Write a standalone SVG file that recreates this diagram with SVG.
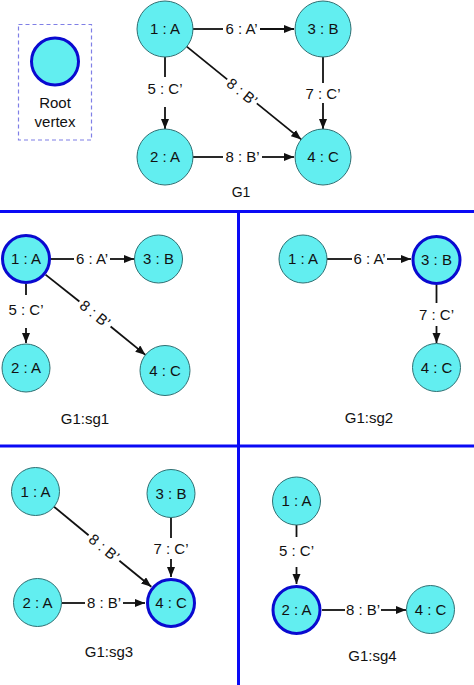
<svg xmlns="http://www.w3.org/2000/svg" width="474" height="685" viewBox="0 0 474 685">
<style>
  .n { fill: #62eef0; stroke: #2f6f72; stroke-width: 1; }
  .root { fill: #62eef0; stroke: #0a0ad0; stroke-width: 3; }
  text { font-family: "Liberation Sans", Arial, sans-serif; font-size: 15px; fill: #111; text-anchor: middle; }
  .e { stroke: #111; stroke-width: 1.8; fill: none; }
  .a { marker-end: url(#arr); }
  .div { stroke: #0a0af5; stroke-width: 3; }
</style>
<defs>
  <marker id="arr" markerUnits="userSpaceOnUse" markerWidth="11" markerHeight="9" refX="10" refY="4" orient="auto">
    <path d="M0,0 L10,4 L0,8 z" fill="#111"/>
  </marker>
</defs>
<rect width="474" height="685" fill="#fff"/>

<!-- dividers -->
<g id="dividers">
  <line class="div" x1="0" y1="211.5" x2="474" y2="211.5"/>
  <line class="div" x1="238.5" y1="211.5" x2="238.5" y2="685"/>
  <line class="div" x1="0" y1="446" x2="474" y2="446"/>
</g>

<!-- legend -->
<g id="legend">
  <rect x="18.5" y="24.5" width="73" height="115.5" fill="none" stroke="#7f7fe6" stroke-width="1.2" stroke-dasharray="4,3"/>
  <circle class="root" cx="55" cy="61.5" r="23.5"/>
  <text x="55" y="108">Root</text>
  <text x="55" y="127">vertex</text>
</g>

<!-- connectors -->
<g id="connectors">
  <!-- G1 -->
  <line class="e" x1="193" y1="29" x2="223" y2="29"/>
  <line class="e a" x1="260" y1="29" x2="294" y2="29"/>
  <line class="e" x1="193" y1="157" x2="223" y2="157"/>
  <line class="e a" x1="262" y1="157" x2="294" y2="157"/>
  <line class="e" x1="165" y1="57" x2="165" y2="77"/>
  <line class="e a" x1="165" y1="107" x2="165" y2="129"/>
  <line class="e" x1="323" y1="57" x2="323" y2="83"/>
  <line class="e a" x1="323" y1="103" x2="323" y2="129"/>
  <line class="e" x1="186.8" y1="46.6" x2="227.2" y2="79.4"/>
  <line class="e a" x1="256.8" y1="103.4" x2="301.2" y2="139.4"/>
  <!-- sg1 -->
  <line class="e" x1="50" y1="259" x2="74" y2="259"/>
  <line class="e a" x1="110" y1="259" x2="134" y2="259"/>
  <line class="e" x1="26" y1="284" x2="26" y2="295"/>
  <line class="e a" x1="26" y1="328" x2="26" y2="343"/>
  <line class="e" x1="45.5" y1="274.6" x2="79.4" y2="301.5"/>
  <line class="e a" x1="110.6" y1="326.5" x2="145.5" y2="354.9"/>
  <!-- sg2 -->
  <line class="e" x1="327" y1="259" x2="352" y2="259"/>
  <line class="e a" x1="387" y1="259" x2="411" y2="259"/>
  <line class="e" x1="436.5" y1="285" x2="436.5" y2="303"/>
  <line class="e a" x1="436.5" y1="326" x2="436.5" y2="343"/>
  <!-- sg3 -->
  <line class="e" x1="171" y1="518" x2="171" y2="538"/>
  <line class="e a" x1="171" y1="559" x2="171" y2="577"/>
  <line class="e" x1="62" y1="603" x2="85" y2="603"/>
  <line class="e a" x1="123" y1="603" x2="145" y2="603"/>
  <line class="e" x1="54" y1="506.7" x2="88.6" y2="535.3"/>
  <line class="e a" x1="119.4" y1="560.7" x2="151.3" y2="586.8"/>
  <!-- sg4 -->
  <line class="e" x1="296.5" y1="525" x2="296.5" y2="537"/>
  <line class="e a" x1="296.5" y1="567" x2="296.5" y2="584"/>
  <line class="e" x1="322" y1="610" x2="345" y2="610"/>
  <line class="e a" x1="381" y1="610" x2="406" y2="610"/>
</g>

<!-- edge labels -->
<g id="edge-labels">
  <text x="241.5" y="34">6 : A’</text>
  <text x="242.5" y="162">8 : B’</text>
  <text x="165" y="94">5 : C’</text>
  <text x="323" y="99">7 : C’</text>
  <text transform="translate(242,92) rotate(39)" x="0" y="5">8 : B’</text>

  <text x="92" y="264">6 : A’</text>
  <text x="26" y="315">5 : C’</text>
  <text transform="translate(95,314) rotate(38.7)" x="0" y="5">8 : B’</text>

  <text x="369.5" y="264">6 : A’</text>
  <text x="436.5" y="320">7 : C’</text>

  <text x="171" y="554">7 : C’</text>
  <text x="104" y="608">8 : B’</text>
  <text transform="translate(104,548) rotate(39.4)" x="0" y="5">8 : B’</text>

  <text x="296.5" y="556">5 : C’</text>
  <text x="363" y="615">8 : B’</text>
</g>

<!-- G1 nodes -->
<g id="g1-n1"><circle class="n" cx="165" cy="29" r="28"/><text x="165" y="34">1 : A</text></g>
<g id="g1-n2"><circle class="n" cx="165" cy="157" r="28"/><text x="165" y="162">2 : A</text></g>
<g id="g1-n3"><circle class="n" cx="323" cy="29" r="28"/><text x="323" y="34">3 : B</text></g>
<g id="g1-n4"><circle class="n" cx="323" cy="157" r="28"/><text x="323" y="162">4 : C</text></g>
<text x="241" y="197" style="font-size:14px">G1</text>

<!-- sg1 -->
<g id="sg1-n1"><circle class="root" cx="26" cy="259" r="23.5"/><text x="26" y="264">1 : A</text></g>
<g id="sg1-n2"><circle class="n" cx="26" cy="368" r="24"/><text x="26" y="373">2 : A</text></g>
<g id="sg1-n3"><circle class="n" cx="158.5" cy="259" r="24"/><text x="158.5" y="264">3 : B</text></g>
<g id="sg1-n4"><circle class="n" cx="165" cy="370.5" r="25"/><text x="165" y="375.5">4 : C</text></g>
<text x="85" y="424">G1:sg1</text>

<!-- sg2 -->
<g id="sg2-n1"><circle class="n" cx="303" cy="259" r="24"/><text x="303" y="264">1 : A</text></g>
<g id="sg2-n3"><circle class="root" cx="436.5" cy="260" r="23.5"/><text x="436.5" y="265">3 : B</text></g>
<g id="sg2-n4"><circle class="n" cx="436.5" cy="367.5" r="24"/><text x="436.5" y="372.5">4 : C</text></g>
<text x="369" y="423">G1:sg2</text>

<!-- sg3 -->
<g id="sg3-n1"><circle class="n" cx="35.5" cy="491.5" r="24"/><text x="35.5" y="496.5">1 : A</text></g>
<g id="sg3-n2"><circle class="n" cx="37.5" cy="602.5" r="24"/><text x="37.5" y="607.5">2 : A</text></g>
<g id="sg3-n3"><circle class="n" cx="171" cy="493.5" r="24"/><text x="171" y="498.5">3 : B</text></g>
<g id="sg3-n4"><circle class="root" cx="171" cy="603" r="23.5"/><text x="171" y="608">4 : C</text></g>
<text x="109" y="657">G1:sg3</text>

<!-- sg4 -->
<g id="sg4-n1"><circle class="n" cx="296.5" cy="501" r="24"/><text x="296.5" y="506">1 : A</text></g>
<g id="sg4-n2"><circle class="root" cx="296.5" cy="610" r="23.5"/><text x="296.5" y="615">2 : A</text></g>
<g id="sg4-n4"><circle class="n" cx="430.5" cy="609.5" r="24"/><text x="430.5" y="614.5">4 : C</text></g>
<text x="372.5" y="661">G1:sg4</text>
</svg>
